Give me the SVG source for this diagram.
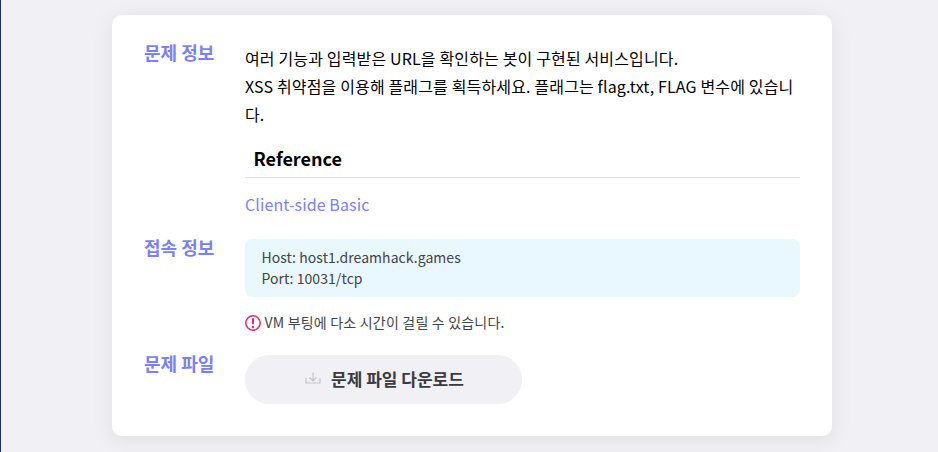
<svg xmlns="http://www.w3.org/2000/svg" width="938" height="452" viewBox="0 0 938 452">
<defs>
<filter id="sh" x="-10%" y="-10%" width="120%" height="125%"><feDropShadow dx="0" dy="4" stdDeviation="10" flood-color="#000" flood-opacity="0.07"/></filter>
</defs>
<style>
text{font-family:"Noto Sans CJK KR","Noto Sans",sans-serif}
.lb{font-size:18px;font-weight:700;fill:#7b7ffa}
.bd{font-size:16px;fill:#000;letter-spacing:.15px}
.mono{font-size:14px;fill:#444;letter-spacing:.05px}
</style>
<rect width="938" height="452" fill="#f0f0f5"/>
<rect x="0" y="0" width="1" height="452" fill="#1c2f5f"/>
<g id="card"><rect x="112" y="15" width="720" height="421" rx="10" fill="#fff" filter="url(#sh)"/></g>
<g id="info">
<text class="lb" x="144" y="60">문제 정보</text>
<text class="bd" x="245" y="65">여러 기능과 입력받은 URL을 확인하는 봇이 구현된 서비스입니다.</text>
<text class="bd" x="245" y="93">XSS 취약점을 이용해 플래그를 획득하세요. 플래그는 flag.txt, FLAG 변수에 있습니</text>
<text class="bd" x="245" y="121">다.</text>
<text x="253.500" y="166" font-size="18" font-weight="700" fill="#000">Reference</text>
<rect x="245" y="177" width="555" height="1" fill="#e0e0e3"/>
<text x="245" y="211" font-size="16" fill="#7b7ffa" letter-spacing=".1">Client-side Basic</text>
</g>
<g id="access">
<text class="lb" x="144" y="255">접속 정보</text>
<rect x="245" y="239" width="555" height="58" rx="8" fill="#e9f7fe"/>
<text class="mono" x="261.500" y="263">Host: host1.dreamhack.games</text>
<text class="mono" x="261.500" y="284">Port: 10031/tcp</text>
</g>
<g id="note">
<circle cx="253" cy="323" r="7.200" fill="none" stroke="#e6286e" stroke-width="1.500"/>
<rect x="252" y="318" width="2" height="6.500" rx="1" fill="#e6286e"/>
<circle cx="253" cy="327" r="1.200" fill="#e6286e"/>
<text x="264.500" y="328" font-size="14" fill="#444" letter-spacing=".2">VM 부팅에 다소 시간이 걸릴 수 있습니다.</text>
</g>
<g id="file">
<text class="lb" x="144" y="371">문제 파일</text>
<rect x="245" y="355" width="277" height="49" rx="24.500" fill="#f0f0f5"/>
<path d="M306 378v5h14v-5M313 372.500v8M309.500 377.500l3.500 3.500 3.500-3.500" fill="none" stroke="#c4c4cc" stroke-width="1.200"/>
<text x="331" y="385.500" font-size="17" font-weight="700" fill="#3a3a3f">문제 파일 다운로드</text>
</g>
</svg>
